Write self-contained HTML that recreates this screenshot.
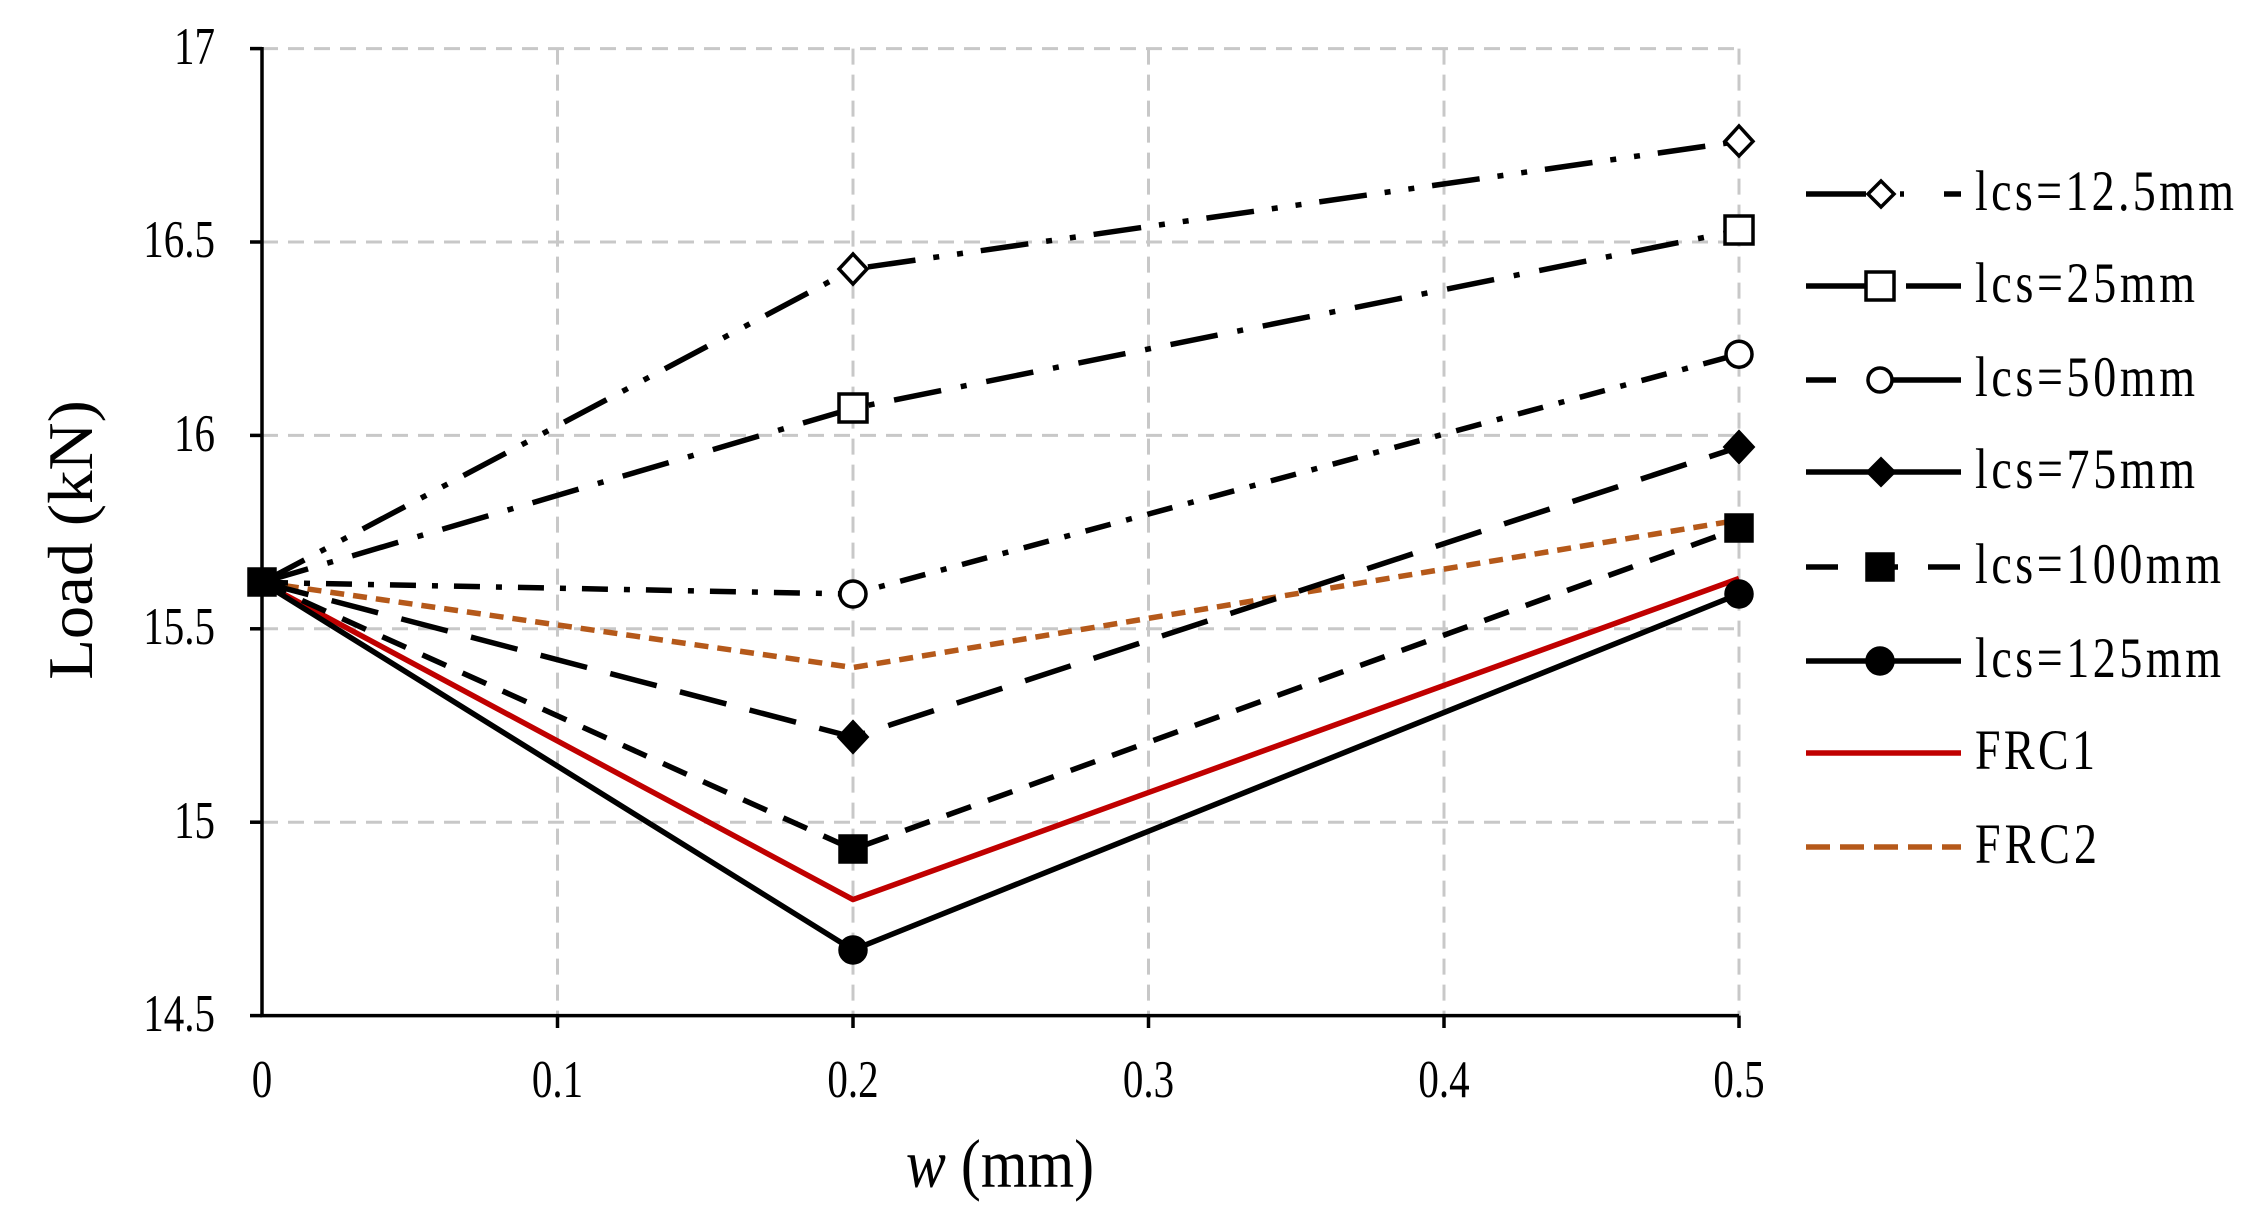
<!DOCTYPE html>
<html><head><meta charset="utf-8"><style>html,body{margin:0;padding:0;background:#fff}svg{display:block}</style></head>
<body>
<svg width="2256" height="1228" viewBox="0 0 2256 1228" xmlns="http://www.w3.org/2000/svg" font-family="'Liberation Serif', serif">
<g stroke="#c8c8c8" stroke-width="3" stroke-dasharray="16,10" fill="none">
<line x1="262" y1="48.6" x2="1739" y2="48.6"/>
<line x1="262" y1="242" x2="1739" y2="242"/>
<line x1="262" y1="435.4" x2="1739" y2="435.4"/>
<line x1="262" y1="628.8" x2="1739" y2="628.8"/>
<line x1="262" y1="822.2" x2="1739" y2="822.2"/>
<line x1="557.5" y1="48.6" x2="557.5" y2="1015.6"/>
<line x1="853" y1="48.6" x2="853" y2="1015.6"/>
<line x1="1148.5" y1="48.6" x2="1148.5" y2="1015.6"/>
<line x1="1444" y1="48.6" x2="1444" y2="1015.6"/>
<line x1="1739" y1="48.6" x2="1739" y2="1015.6"/>
</g>
<g stroke="#000" stroke-width="3.5">
<line x1="262" y1="47" x2="262" y2="1017"/>
<line x1="260" y1="1015.6" x2="1739" y2="1015.6"/>
<line x1="250" y1="48.6" x2="262" y2="48.6"/>
<line x1="250" y1="242" x2="262" y2="242"/>
<line x1="250" y1="435.4" x2="262" y2="435.4"/>
<line x1="250" y1="628.8" x2="262" y2="628.8"/>
<line x1="250" y1="822.2" x2="262" y2="822.2"/>
<line x1="250" y1="1015.6" x2="262" y2="1015.6"/>
<line x1="557.5" y1="1015.6" x2="557.5" y2="1028"/>
<line x1="853" y1="1015.6" x2="853" y2="1028"/>
<line x1="1148.5" y1="1015.6" x2="1148.5" y2="1028"/>
<line x1="1444" y1="1015.6" x2="1444" y2="1028"/>
<line x1="1739" y1="1015.6" x2="1739" y2="1028"/>
</g>
<g font-size="41" text-anchor="end" fill="#000">
<text transform="translate(215,64) scale(1,1.3)">17</text>
<text transform="translate(215,257) scale(1,1.3)">16.5</text>
<text transform="translate(215,451) scale(1,1.3)">16</text>
<text transform="translate(215,644) scale(1,1.3)">15.5</text>
<text transform="translate(215,838) scale(1,1.3)">15</text>
<text transform="translate(215,1031) scale(1,1.3)">14.5</text>
</g>
<g font-size="41" text-anchor="middle" fill="#000">
<text transform="translate(262,1097) scale(1,1.3)">0</text>
<text transform="translate(557.5,1097) scale(1,1.3)">0.1</text>
<text transform="translate(853,1097) scale(1,1.3)">0.2</text>
<text transform="translate(1148.5,1097) scale(1,1.3)">0.3</text>
<text transform="translate(1444,1097) scale(1,1.3)">0.4</text>
<text transform="translate(1739,1097) scale(1,1.3)">0.5</text>
</g>
<text transform="translate(1000,1187) scale(1,1.15)" font-size="60" text-anchor="middle"><tspan font-style="italic">w</tspan> (mm)</text>
<text transform="translate(92,540) rotate(-90) scale(1.15,1.1)" font-size="58" text-anchor="middle">Load (kN)</text>

<g fill="none" stroke-width="5.5" stroke-linejoin="round">
<polyline points="262,582.4 853,667.5 1739,520" stroke="#b5591a" stroke-dasharray="14,9"/>
<polyline points="262,582.4 853,899.6 1739,578.5" stroke="#c00000"/>
<polyline points="262,582.4 853,949.9 1739,594" stroke="#000"/>
<polyline points="262,582.4 853,849.3 1739,528.2" stroke="#000" stroke-dasharray="26,18"/>
<polyline points="262,582.4 853,737.1 1739,447" stroke="#000" stroke-dasharray="48,24"/>
<polyline points="262,582.4 853,594 1739,354.2" stroke="#000" stroke-dasharray="26,16,6,16"/>
<polyline points="262,582.4 853,408.3 1739,230.4" stroke="#000" stroke-dasharray="48,20,6,20"/>
<polyline points="262,582.4 853,269.1 1739,141.4" stroke="#000" stroke-dasharray="48,18,6,18,6,18"/>
</g>
<g stroke="#000" stroke-width="3.5">
<path d="M853 254 L867 269 L853 284 L839 269 Z" fill="#fff"/>
<path d="M1739 126 L1753 141.4 L1739 156 L1725 141.4 Z" fill="#fff"/>
<rect x="839" y="394" width="28" height="28" fill="#fff"/>
<rect x="1725" y="216" width="28" height="28" fill="#fff"/>
<circle cx="853" cy="594" r="13" fill="#fff"/>
<circle cx="1739" cy="354.2" r="13" fill="#fff"/>
<path d="M853 722 L867 737 L853 752 L839 737 Z" fill="#000"/>
<path d="M1739 432 L1753 447 L1739 462 L1725 447 Z" fill="#000"/>
<rect x="840" y="836" width="26" height="26" fill="#000"/>
<rect x="1726" y="515" width="26" height="26" fill="#000"/>
<circle cx="853" cy="950" r="13" fill="#000"/>
<circle cx="1739" cy="594" r="13" fill="#000"/>
<rect x="249" y="569" width="26" height="26" fill="#000"/>
</g>

<g stroke-width="5.5" fill="none">
<line x1="1806" y1="194" x2="1961" y2="194" stroke="#000" stroke-dasharray="60,12,4,18,4,40"/>
<line x1="1806" y1="286" x2="1961" y2="286" stroke="#000" stroke-dasharray="70,30,30,0"/>
<line x1="1806" y1="380" x2="1961" y2="380" stroke="#000" stroke-dasharray="30,50,75"/>
<line x1="1806" y1="472" x2="1961" y2="472" stroke="#000"/>
<line x1="1806" y1="567" x2="1961" y2="567" stroke="#000" stroke-dasharray="32,30,30,30,32"/>
<line x1="1806" y1="661" x2="1961" y2="661" stroke="#000"/>
<line x1="1806" y1="753" x2="1961" y2="753" stroke="#c00000"/>
<line x1="1806" y1="847" x2="1961" y2="847" stroke="#b5591a" stroke-dasharray="24,10"/>
</g>
<g stroke="#000" stroke-width="3.5">
<path d="M1881 181 L1894 194 L1881 207 L1868 194 Z" fill="#fff"/>
<rect x="1866" y="272" width="28" height="28" fill="#fff"/>
<circle cx="1880" cy="380" r="12" fill="#fff"/>
<path d="M1881 459 L1894 472 L1881 485 L1868 472 Z" fill="#000"/>
<rect x="1867" y="554" width="26" height="26" fill="#000"/>
<circle cx="1880" cy="661" r="13" fill="#000"/>
</g>
<g font-size="46" fill="#000">
<text transform="translate(1975,210) scale(1,1.25)" textLength="259">lcs=12.5mm</text>
<text transform="translate(1975,302) scale(1,1.25)" textLength="220">lcs=25mm</text>
<text transform="translate(1975,396) scale(1,1.25)" textLength="220">lcs=50mm</text>
<text transform="translate(1975,488) scale(1,1.25)" textLength="220">lcs=75mm</text>
<text transform="translate(1975,583) scale(1,1.25)" textLength="246">lcs=100mm</text>
<text transform="translate(1975,677) scale(1,1.25)" textLength="246">lcs=125mm</text>
<text transform="translate(1975,769) scale(1,1.25)" textLength="120">FRC1</text>
<text transform="translate(1975,863) scale(1,1.25)" textLength="122">FRC2</text>
</g>
</svg>
</body></html>
